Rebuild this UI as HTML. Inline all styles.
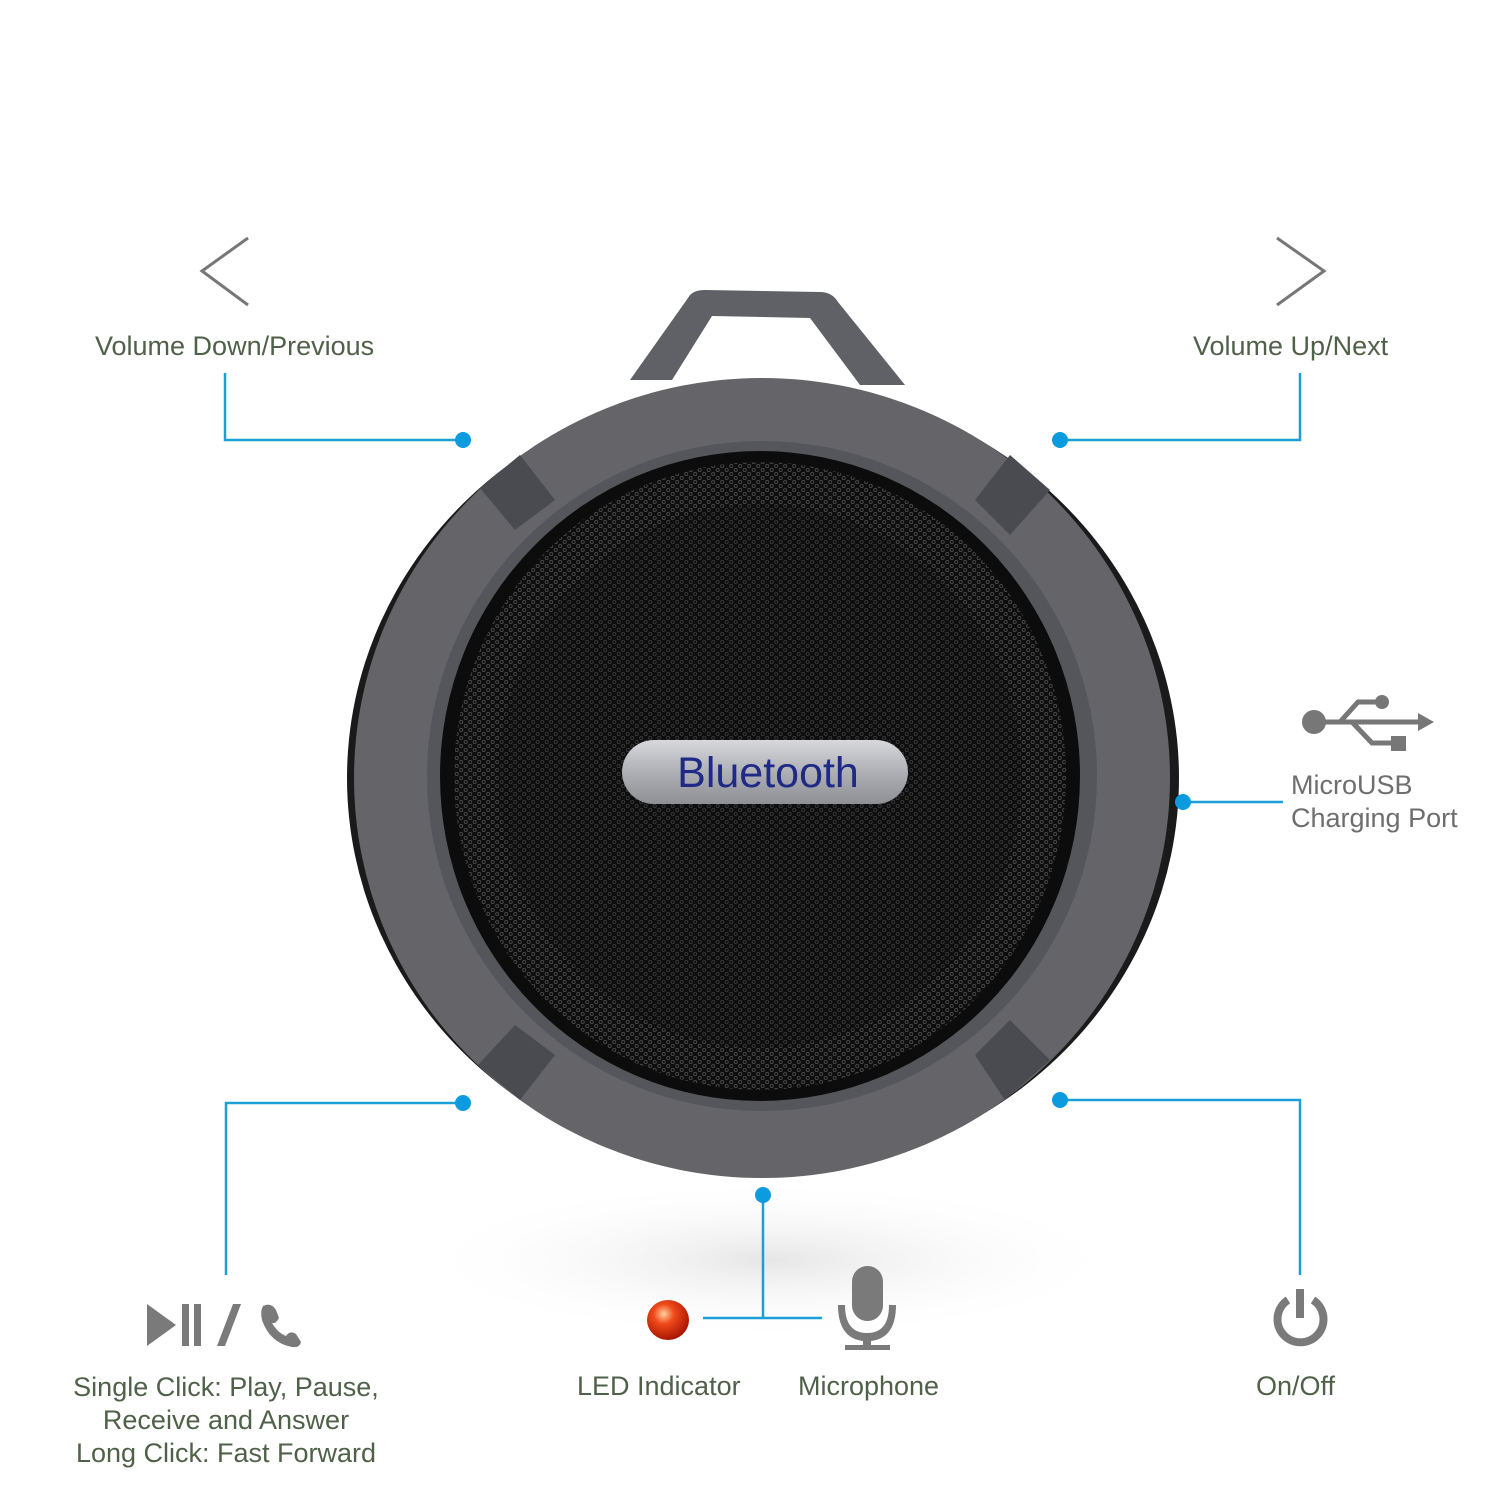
<!DOCTYPE html>
<html><head><meta charset="utf-8"><style>
html,body{margin:0;padding:0;background:#fff;}
body{width:1500px;height:1500px;position:relative;overflow:hidden;font-family:"Liberation Sans",sans-serif;}
.t{position:absolute;color:#4f6148;font-size:27px;white-space:nowrap;}
.c{text-align:center;}
</style></head><body>
<svg width="1500" height="1500" style="position:absolute;left:0;top:0">
<defs>
<pattern id="mesh" width="9" height="8" patternUnits="userSpaceOnUse">
<rect width="9" height="8" fill="#0e0e0e"/>
<circle cx="2.2" cy="2" r="2" fill="#4a4a4a"/>
<circle cx="6.7" cy="6" r="2" fill="#4a4a4a"/>
<circle cx="2.2" cy="2" r="1.1" fill="#0e0e0e"/>
<circle cx="6.7" cy="6" r="1.1" fill="#0e0e0e"/>
</pattern>
<radialGradient id="led" cx="0.4" cy="0.35" r="0.7">
<stop offset="0" stop-color="#ffd0a0"/><stop offset="0.35" stop-color="#f04a1a"/><stop offset="1" stop-color="#a01000"/>
</radialGradient>
<radialGradient id="shadow" cx="0.5" cy="0.5" r="0.5">
<stop offset="0" stop-color="#e6e6e6"/><stop offset="1" stop-color="#fff" stop-opacity="0"/>
</radialGradient>
<linearGradient id="pill" x1="0" y1="0" x2="0" y2="1">
<stop offset="0" stop-color="#d8d8dc"/><stop offset="0.5" stop-color="#aeb0b6"/><stop offset="1" stop-color="#8e9096"/>
</linearGradient>
</defs>
<ellipse cx="770" cy="1260" rx="360" ry="80" fill="url(#shadow)"/>
<path d="M630 380 L688 298 Q692 290 705 290 L820 292 Q832 292 838 302 L905 385 L860 385 L810 318 L712 316 L672 380 Z" fill="#5f6166"/>
<ellipse cx="763" cy="778" rx="416" ry="396" fill="#1a1a1a"/>
<ellipse cx="762" cy="778" rx="408" ry="400" fill="#646469"/>
<ellipse cx="762" cy="776" rx="335" ry="335" fill="#55565b"/>
<path d="M480 488 L520 455 L555 500 L515 530 Z" fill="#4a4b50"/>
<path d="M1010 455 L1050 490 L1010 535 L975 500 Z" fill="#4a4b50"/>
<path d="M478 1065 L520 1100 L555 1055 L515 1025 Z" fill="#4a4b50"/>
<path d="M1005 1100 L1050 1060 L1010 1020 L975 1055 Z" fill="#4a4b50"/>
<ellipse cx="760" cy="776" rx="320" ry="325" fill="#0c0c0c"/>
<ellipse cx="760" cy="776" rx="306" ry="314" fill="url(#mesh)"/>
<ellipse cx="760" cy="776" rx="262" ry="272" fill="#111" opacity="0.3"/>
<rect x="622" y="740" width="286" height="64" rx="32" fill="url(#pill)"/>
<text x="768" y="787" text-anchor="middle" font-family="Liberation Sans,sans-serif" font-size="43" fill="#1f2a86">Bluetooth</text>
<g stroke="#1a9fd6" stroke-width="2.5" fill="none">
<polyline points="463,440 225,440 225,373"/>
<polyline points="1060,440 1300,440 1300,373"/>
<polyline points="1183,802 1283,802"/>
<polyline points="463,1103 226,1103 226,1275"/>
<polyline points="1060,1100 1300,1100 1300,1275"/>
<polyline points="763,1195 763,1318"/>
<polyline points="703,1318 822,1318"/>
</g>
<g fill="#0d9be0">
<circle cx="463" cy="440" r="8"/><circle cx="1060" cy="440" r="8"/>
<circle cx="1183" cy="802" r="8"/><circle cx="463" cy="1103" r="8"/>
<circle cx="1060" cy="1100" r="8"/><circle cx="763" cy="1195" r="8"/>
</g>
<polyline points="248,238 202,271 248,305" stroke="#777" stroke-width="3" fill="none"/>
<polyline points="1277,238 1324,271 1277,305" stroke="#777" stroke-width="3" fill="none"/>
<g fill="#777" stroke="#777">
<circle cx="1314" cy="722" r="12" stroke="none"/>
<line x1="1314" y1="722" x2="1420" y2="722" stroke-width="5"/>
<polygon points="1418,713 1434,722 1418,731" stroke="none"/>
<polyline points="1340,722 1358,702 1380,702" fill="none" stroke-width="5"/>
<circle cx="1382" cy="702" r="7" stroke="none"/>
<polyline points="1352,722 1372,743 1395,743" fill="none" stroke-width="5"/>
<rect x="1391" y="736" width="15" height="15" stroke="none"/>
</g>
<g fill="#7a7a7a">
<polygon points="147,1304 147,1346 176,1325"/>
<rect x="182" y="1304" width="7" height="42"/><rect x="194" y="1304" width="7" height="42"/>
<polygon points="233,1304 241,1304 225,1346 217,1346"/>
<path d="M263 1306 Q271 1302 276 1310 L279 1318 Q276 1324 272 1323 Q278 1333 286 1336 Q290 1330 296 1334 L301 1342 Q300 1348 292 1347 Q270 1343 262 1320 Q260 1311 263 1306 Z"/>
</g>
<ellipse cx="668" cy="1320" rx="21" ry="20" fill="url(#led)"/>
<g fill="#7a7a7a">
<rect x="852" y="1266" width="31" height="55" rx="15.5"/>
<path d="M838 1305 L845 1305 Q845 1333 867 1333 Q889 1333 889 1305 L896 1305 Q896 1338 871 1341 L871 1345 L890 1345 L890 1350 L845 1350 L845 1345 L863 1345 L863 1341 Q838 1338 838 1305 Z"/>
</g>
<g stroke="#7a7a7a" stroke-width="8" fill="none">
<path d="M1288 1300 A23 23 0 1 0 1313 1300"/>
<line x1="1300" y1="1289" x2="1300" y2="1318"/>
</g>
</svg>
<div class="t" style="left:95px;top:331px">Volume Down/Previous</div>
<div class="t" style="left:1193px;top:331px">Volume Up/Next</div>
<div class="t" style="left:1291px;top:769px;color:#6e6e6e;line-height:33px">MicroUSB<br>Charging Port</div>
<div class="t c" style="left:40px;width:372px;top:1371px;line-height:33px">Single Click: Play, Pause,<br>Receive and Answer<br>Long Click: Fast Forward</div>
<div class="t" style="left:577px;top:1371px">LED Indicator</div>
<div class="t" style="left:798px;top:1371px">Microphone</div>
<div class="t" style="left:1256px;top:1371px">On/Off</div>
</body></html>
